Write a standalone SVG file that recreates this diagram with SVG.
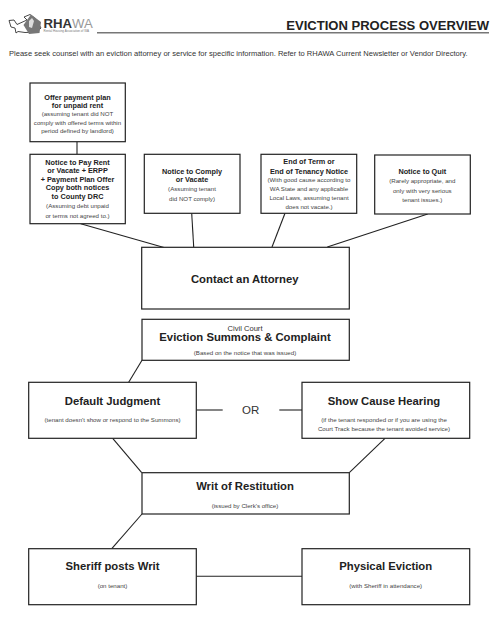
<svg xmlns="http://www.w3.org/2000/svg" width="501" height="630" viewBox="0 0 501 630">
<style>
text{font-family:"Liberation Sans",Arial,sans-serif;fill:#222;text-anchor:middle}
.box{fill:#fff;stroke:#222;stroke-width:1.2}
.c{stroke:#222;stroke-width:1.1;fill:none}
.t1{font-size:7.300px;font-weight:bold}
.t3{font-size:11.300px;font-weight:bold}
.t4{font-size:6.150px;fill:#444}
</style>
<rect width="501" height="630" fill="#fff"/>
<g id="header">
<path d="M9 20.500L14 20L17 24.500L27 20L24 17L30 14.500L36 19L41 28L37 32L25 32.500L18 31.500L16 33L15 28L11 27Z" fill="#fff" stroke="#333" stroke-width="0.9"/>
<path d="M23.500 25L31 14.500L41 22L39.500 33L29 34Z" fill="#777"/>
<path d="M29 21L32 18L34 21L32 28L29 27Z" fill="#ddd"/>
<text x="43.500" y="27.500" style="font-size:13.200px;font-weight:bold;text-anchor:start;fill:#333">RHA<tspan style="font-weight:normal;fill:#999">WA</tspan></text>
<text x="43.500" y="32" style="font-size:3px;text-anchor:start;fill:#777">Rental Housing Association of WA</text>
<line x1="97" y1="32.700" x2="489" y2="32.700" stroke="#777" stroke-width="1.600"/>
<text x="489" y="29.500" style="font-size:13.050px;font-weight:bold;text-anchor:end">EVICTION PROCESS OVERVIEW</text>
<text x="9" y="55.500" style="font-size:7.550px;text-anchor:start;fill:#333">Please seek counsel with an eviction attorney or service for specific information. Refer to RHAWA Current Newsletter or Vendor Directory.</text>
</g>
<g id="connectors">
<line class="c" x1="77" y1="141.700" x2="77" y2="154.300"/>
<line class="c" x1="80.700" y1="223.700" x2="164" y2="247.500"/>
<line class="c" x1="191.700" y1="213.300" x2="193.700" y2="247"/>
<line class="c" x1="285" y1="213.300" x2="272" y2="247"/>
<line class="c" x1="427.700" y1="214" x2="327.300" y2="247"/>
<line class="c" x1="142" y1="360.300" x2="128.700" y2="382.300"/>
<line class="c" x1="196.300" y1="410" x2="222.700" y2="410"/>
<line class="c" x1="279.300" y1="410" x2="302" y2="410"/>
<line class="c" x1="112.700" y1="438.300" x2="141.700" y2="472.700"/>
<line class="c" x1="385" y1="438.300" x2="349.300" y2="472.700"/>
<line class="c" x1="142" y1="514" x2="112" y2="548.300"/>
<line class="c" x1="196.300" y1="576.300" x2="302" y2="576.300"/>
</g>
<g id="offer">
<rect class="box" x="30" y="83" width="95.300" height="58.700"/>
<text class="t1" x="77.500" y="99.700">Offer payment plan</text>
<text class="t1" x="77.500" y="108.300">for unpaid rent</text>
<text class="t4" x="77.500" y="116.300">(assuming tenant did NOT</text>
<text class="t4" x="77.500" y="124.700">comply with offered terms within</text>
<text class="t4" x="77.500" y="133">period defined by landlord)</text>
</g>
<g id="pay-rent">
<rect class="box" x="30" y="154.300" width="95.300" height="69.400"/>
<text class="t1" x="77.500" y="164.700">Notice to Pay Rent</text>
<text class="t1" x="77.500" y="173.300">or Vacate + ERPP</text>
<text class="t1" x="77.500" y="181.700">+ Payment Plan Offer</text>
<text class="t1" x="77.500" y="190.300">Copy both notices</text>
<text class="t1" x="77.500" y="199.300">to County DRC</text>
<text class="t4" x="77.500" y="208">(Assuming debt unpaid</text>
<text class="t4" x="77.500" y="217.500">or terms not agreed to.)</text>
</g>
<g id="comply">
<rect class="box" x="144.300" y="154.300" width="95.700" height="59"/>
<text class="t1" x="192" y="173.700">Notice to Comply</text>
<text class="t1" x="192" y="182.300">or Vacate</text>
<text class="t4" x="192" y="191.300">(Assuming tenant</text>
<text class="t4" x="192" y="200.700">did NOT comply)</text>
</g>
<g id="end-term">
<rect class="box" x="261" y="154.300" width="95.700" height="59"/>
<text class="t1" x="309" y="164.300">End of Term or</text>
<text class="t1" x="309" y="173.700">End of Tenancy Notice</text>
<text class="t4" x="309" y="181.700">(With good cause according to</text>
<text class="t4" x="309" y="190.700">WA State and any applicable</text>
<text class="t4" x="309" y="200">Local Laws, assuming tenant</text>
<text class="t4" x="309" y="209">does not vacate.)</text>
</g>
<g id="quit">
<rect class="box" x="374.700" y="155" width="95.600" height="59"/>
<text class="t1" x="422.300" y="174.300">Notice to Quit</text>
<text class="t4" x="422.300" y="183.300">(Rarely appropriate, and</text>
<text class="t4" x="422.300" y="192.700">only with very serious</text>
<text class="t4" x="422.300" y="202">tenant issues.)</text>
</g>
<g id="attorney">
<rect class="box" x="141.700" y="247.300" width="207.600" height="61.700"/>
<text class="t3" x="244.700" y="283">Contact an Attorney</text>
</g>
<g id="summons">
<rect class="box" x="142" y="319.300" width="207.300" height="41"/>
<text x="245" y="330.700" style="font-size:7.600px;fill:#333">Civil Court</text>
<text class="t3" x="245" y="340.700">Eviction Summons &amp; Complaint</text>
<text class="t4" x="245" y="354.700">(Based on the notice that was issued)</text>
</g>
<g id="default-judgment">
<rect class="box" x="28.700" y="382.300" width="167.600" height="56"/>
<text class="t3" x="112.500" y="405">Default Judgment</text>
<text class="t4" x="112.500" y="421.700">(tenant doesn't show or respond to the Summons)</text>
</g>
<text x="250.700" y="413.700" style="font-size:11.500px;fill:#333">OR</text>
<g id="show-cause">
<rect class="box" x="302" y="382.300" width="167.700" height="56"/>
<text class="t3" x="384" y="405">Show Cause Hearing</text>
<text class="t4" x="384" y="421.700">(if the tenant responded or if you are using the</text>
<text class="t4" x="384" y="430.700">Court Track because the tenant avoided service)</text>
</g>
<g id="writ">
<rect class="box" x="142" y="472.700" width="207.300" height="41.300"/>
<text class="t3" x="245" y="490">Writ of Restitution</text>
<text class="t4" x="245" y="508">(issued by Clerk's office)</text>
</g>
<g id="sheriff">
<rect class="box" x="28.700" y="548.700" width="167.600" height="56"/>
<text class="t3" x="112.500" y="570">Sheriff posts Writ</text>
<text class="t4" x="112.500" y="588">(on tenant)</text>
</g>
<g id="physical">
<rect class="box" x="302" y="548.700" width="167.700" height="56"/>
<text class="t3" x="385.700" y="570">Physical Eviction</text>
<text class="t4" x="385.700" y="588">(with Sheriff in attendance)</text>
</g>
</svg>
